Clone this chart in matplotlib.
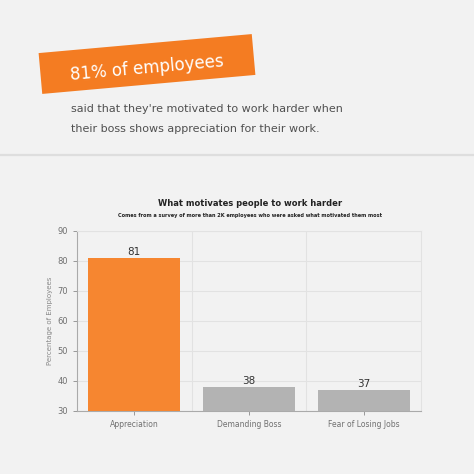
import matplotlib.pyplot as plt
from matplotlib.patches import Rectangle
import matplotlib.transforms as mtransforms

categories = ["Appreciation", "Demanding Boss", "Fear of Losing Jobs"]
values = [81, 38, 37]
bar_colors = ["#f68630", "#b3b3b3", "#b3b3b3"]
yticks = [30, 40, 50, 60, 70, 80, 90]

W = H = 474
fig = plt.figure(figsize=(4.74, 4.74), dpi=100, facecolor="#f2f2f2")
plt.rcParams['font.family'] = ['DejaVu Sans']


def px(x, y):
    # pixel coords (top-left origin) -> figure fraction
    return x / W, 1 - y / H


# divider line between header and chart
fig.add_artist(plt.Line2D([0, 1], [1 - 155 / H] * 2, color="#dedede", lw=1.6))

# orange tag, slightly rotated
tag_w, tag_h = 214, 41
cx, cy = 147, 64
rot = mtransforms.Affine2D().rotate_deg_around(cx, H - cy, 5.1)
tag = Rectangle((cx - tag_w / 2, H - cy - tag_h / 2), tag_w, tag_h,
                facecolor="#f47c22", edgecolor="none",
                transform=rot + mtransforms.Affine2D().scale(1 / W, 1 / H) + fig.transFigure)
fig.add_artist(tag)
fig.text(*px(147, 68), "81% of employees", color="white", fontsize=12,
         rotation=5.1, ha="center", va="center", rotation_mode="anchor")

fig.text(*px(71, 109), "said that they're motivated to work harder when",
         color="#505050", fontsize=8, fontweight="medium", ha="left", va="center")
fig.text(*px(71, 129), "their boss shows appreciation for their work.",
         color="#505050", fontsize=8, fontweight="medium", ha="left", va="center")

# chart
ax = fig.add_axes([77 / W, 1 - 411 / H, 344 / W, 180 / H])
ax.set_facecolor("#f2f2f2")
x = list(range(len(categories)))
ax.bar(x, values, width=0.8, color=bar_colors, bottom=0, zorder=3)
for xi, v in zip(x, values):
    ax.text(xi, v + 0.4, str(v), ha="center", va="bottom", fontsize=7.5,
            color="#333333", zorder=4)

ax.set_xlim(-0.5, 2.5)
ax.set_ylim(30, 90)
ax.set_yticks(yticks)
ax.set_xticks(x)
ax.set_xticklabels(categories)
ax.set_xticks([0.5, 1.5], minor=True)
ax.grid(True, axis="y", color="#e2e2e2", lw=0.8, zorder=0)
ax.grid(True, axis="x", which="minor", color="#e2e2e2", lw=0.8, zorder=0)
ax.tick_params(axis="x", which="minor", length=0)
ax.tick_params(axis="both", which="major", colors="#999999", labelcolor="#707070",
               labelsize=5.5, length=3, width=0.7)
ax.tick_params(axis="y", labelsize=6)
for s in ["top", "right"]:
    ax.spines[s].set_color("#e2e2e2")
    ax.spines[s].set_linewidth(0.8)
for s in ["left", "bottom"]:
    ax.spines[s].set_color("#aaaaaa")
    ax.spines[s].set_linewidth(0.8)
ax.set_ylabel("Percentage of Employees", fontsize=5, color="#888888", labelpad=3)

fig.text(250 / W, 1 - 203 / H, "What motivates people to work harder",
         ha="center", va="center", fontsize=6, fontweight="bold", color="#222222")
fig.text(250 / W, 1 - 216 / H,
         "Comes from a survey of more than 2K employees who were asked what motivated them most",
         ha="center", va="center", fontsize=3.6, fontweight="bold", color="#222222")

fig.savefig("out.png", dpi=100, facecolor=fig.get_facecolor())
